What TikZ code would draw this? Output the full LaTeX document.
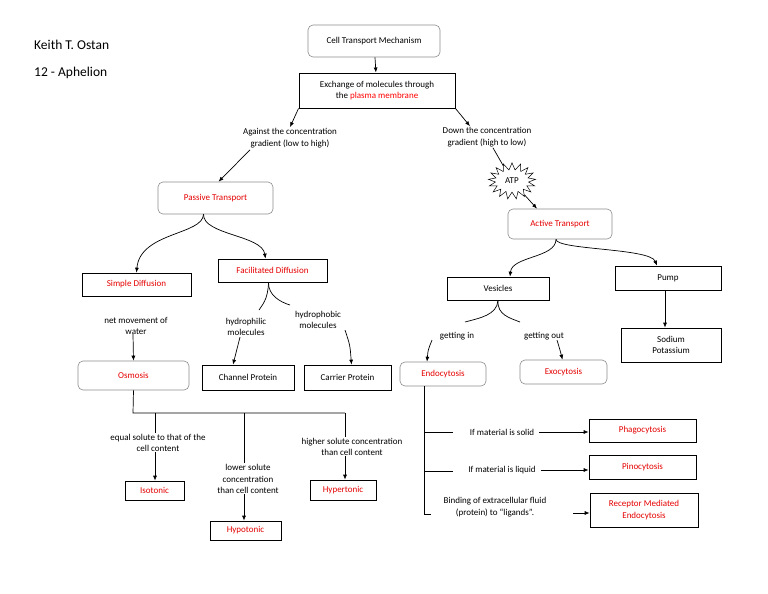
\documentclass[tikz,border=0pt]{standalone}
\usepackage{fontspec}
\setmainfont{Carlito}
\usetikzlibrary{arrows.meta,shapes.symbols}
\begin{document}
\begin{tikzpicture}[x=1pt,y=-1pt,
  every node/.style={font=\fontsize{9}{11.5}\selectfont,align=center,inner sep=1pt},
  rb/.style={draw=black!45,rounded corners=5pt,line width=0.6pt},
  sb/.style={draw,line width=0.7pt},
  red/.style={text=red!90!black},
  arr/.style={-{Latex[length=5pt,width=4pt]},line width=0.7pt},
  ln/.style={line width=0.7pt}]
\useasboundingbox (0,0) rectangle (768,594);
\fill[white] (0,0) rectangle (768,594);
\node[anchor=west,font=\fontsize{13.5}{15}\selectfont] (name) at (33,45) {Keith T. Ostan};
\node[anchor=west,font=\fontsize{13.5}{15}\selectfont] (sec) at (33,73) {12 - Aphelion};
% boxes
\node[rb,minimum width=132pt,minimum height=32pt] (ctm) at (374,41) {Cell Transport Mechanism};
\node[sb,line width=1pt,minimum width=156pt,minimum height=35pt] (ex) at (377,90.5) {Exchange of molecules through\\the \textcolor{red}{plasma membrane}};
\node (ag) at (290,138) {Against the concentration\\gradient (low to high)};
\node (dn) at (487,137) {Down the concentration\\gradient (high to low)};
\node[rb,red,minimum width=115pt,minimum height=32pt] (pt) at (215.5,198) {Passive Transport};
\node[starburst,draw,fill=white,line width=0.5pt,inner sep=5pt,starburst point height=7pt,random starburst=0] (atp) at (512,181) {ATP};
\node[rb,red,minimum width=104pt,minimum height=30pt] (at) at (560,224) {Active Transport};
\node[sb,red,minimum width=109pt,minimum height=23pt] (sd) at (136.5,284.5) {Simple Diffusion};
\node[sb,red,minimum width=109pt,minimum height=23pt] (fd) at (272.5,270.5) {Facilitated Diffusion};
\node (nm) at (136,326) {net movement of\\water};
\node[rb,red,minimum width=111pt,minimum height=29pt] (os) at (133.5,375.5) {Osmosis};
\node (hpl) at (246,327) {hydrophilic\\molecules};
\node (hpb) at (318,320) {hydrophobic\\molecules};
\node[sb,minimum width=92pt,minimum height=25pt] (cp) at (248,377.5) {Channel Protein};
\node[sb,minimum width=87pt,minimum height=25pt] (cap) at (347.5,377.5) {Carrier Protein};
\node (eq) at (158,443) {equal solute to that of the\\cell content};
\node (lo) at (248,479) {lower solute\\concentration\\than cell content};
\node (hi) at (352,447) {higher solute concentration\\than cell content};
\node[sb,red,minimum width=59pt,minimum height=19pt] (iso) at (154.5,490.5) {Isotonic};
\node[sb,red,minimum width=71pt,minimum height=19pt] (hypo) at (245.5,530.5) {Hypotonic};
\node[sb,red,minimum width=66pt,minimum height=20pt] (hyper) at (343,490) {Hypertonic};
\node[sb,minimum width=102pt,minimum height=23pt] (ves) at (498,288.5) {Vesicles};
\node[sb,minimum width=106pt,minimum height=24pt] (pump) at (668,278) {Pump};
\node[sb,minimum width=100pt,minimum height=34pt] (sp) at (671,345) {Sodium\\Potassium};
\node (gi) at (457,336) {getting in};
\node (go) at (544,336) {getting out};
\node[rb,red,minimum width=86pt,minimum height=24pt] (endo) at (443,374) {Endocytosis};
\node[rb,red,minimum width=87pt,minimum height=24pt] (exo) at (563.5,372) {Exocytosis};
\node (sol) at (502,432) {If material is solid};
\node (liq) at (502,470) {If material is liquid};
\node (bind) at (495,507) {Binding of extracellular fluid\\(protein) to ``ligands''.};
\node[sb,red,minimum width=107pt,minimum height=23pt] (pha) at (642.5,430.5) {Phagocytosis};
\node[sb,red,minimum width=107pt,minimum height=24pt] (pino) at (642.5,467) {Pinocytosis};
\node[sb,red,minimum width=108pt,minimum height=34pt] (rme) at (644,510) {Receptor Mediated\\Endocytosis};
% connectors
\draw[arr] (ctm) -- (ex);
\draw[arr] (ex.south west) -- (ag.north);
\draw[arr] (ex.south east) -- ([xshift=-17pt]dn.north);
\draw[arr] ([xshift=-40pt,yshift=-1pt]ag.south) -- ([xshift=3pt]pt.north);
\draw[ln] ([xshift=6pt]dn.south) -- (atp);
\draw[arr] (atp) -- ([xshift=-23pt]at.north);
\draw[arr] ([xshift=-12pt]pt.south) .. controls (203,235) and (140,232) .. (sd.north);
\draw[arr] ([xshift=-12pt]pt.south) .. controls (203,235) and (262,235) .. ([xshift=-7pt]fd.north);
\draw[arr] ([xshift=-3pt,yshift=2pt]nm.south) -- (os.north);
\draw[ln] ([xshift=-4pt]fd.south) .. controls (268,300) and (262,305) .. (259,310);
\draw[ln] ([xshift=-4pt]fd.south) .. controls (268,295) and (280,302) .. (290,305);
\draw[arr] ([xshift=-6pt]hpl.south) -- ([xshift=-15pt]cp.north);
\draw[arr] ([xshift=27pt]hpb.south) .. controls (350,345) .. ([xshift=4pt]cap.north);
\coordinate (j0) at (133,413);
\draw[ln] (os.south) -- (j0) -- (345,413);
\draw[ln] (155,413) -- (eq.north -| 155,0);
\draw[ln] (244,413) -- (lo.north -| 244,0);
\draw[ln] (345,413) -- (hi.north -| 345,0);
\draw[arr] ([yshift=1pt]eq.south -| 155,0) -- (iso.north -| 155,0);
\draw[arr] ([yshift=1pt]lo.south -| 244,0) -- (hypo.north -| 244,0);
\draw[arr] ([yshift=1pt]hi.south -| 345,0) -- (hyper.north -| 345,0);
\draw[arr] ([xshift=-4pt]at.south) .. controls (556,258) and (512,256) .. ([xshift=12pt]ves.north);
\draw[arr] ([xshift=-4pt]at.south) .. controls (556,250) and (650,248) .. ([xshift=-11pt]pump.north);
\draw[arr] ([xshift=-3pt]pump.south) -- ([xshift=-6pt]sp.north);
\draw[ln] (ves.south) .. controls (497,315) and (480,318) .. (465,322);
\draw[ln] (ves.south) .. controls (497,315) and (510,318) .. (520,322);
\draw[arr] ([xshift=-25pt,yshift=1pt]gi.south) .. controls (428,350) .. ([xshift=-16pt]endo.north);
\draw[arr] ([xshift=13pt,yshift=1pt]go.south) .. controls (560,350) .. ([xshift=-1pt]exo.north);
\coordinate (e1) at (424,514);
\draw[ln] ([xshift=-19pt]endo.south) -- (e1) -- (431,514);
\draw[ln] (424,432) -- (453,432);
\draw[ln] (424,471) -- (453,471);
\draw[arr] ([xshift=4pt]sol.east) -- (sol.east -| pha.west);
\draw[arr] ([xshift=4pt]liq.east) -- (liq.east -| pino.west);
\draw[arr] (573,513) -- (573,513 -| rme.west);
\end{tikzpicture}
\end{document}
